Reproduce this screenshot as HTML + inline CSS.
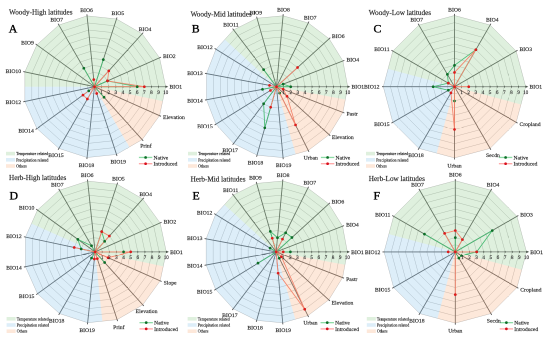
<!DOCTYPE html>
<html><head><meta charset="utf-8"><style>
html,body{margin:0;padding:0;background:#fff;}
svg{display:block;}
#wrap{width:550px;height:344px;overflow:hidden;position:relative;}
#sc{position:absolute;left:0;top:0;transform-origin:0 0;transform:scale(0.5);will-change:transform;}

text{font-family:"Liberation Serif",serif;stroke:#262626;stroke-width:0.15px;}
</style></head><body>
<div id="wrap"><div id="sc">
<svg width="1100" height="688" viewBox="0 0 550 344">
<rect width="550" height="344" fill="#fff"/>
<polygon points="101.62,86.70 101.00,83.80 99.26,81.41 96.70,79.93 93.76,79.62 90.94,80.53 88.74,82.51 87.54,85.22 87.54,88.18 88.74,90.89 90.94,92.87 93.76,93.78 96.70,93.47 99.26,91.99 101.00,89.60" fill="none" stroke="#bdbdbd" stroke-width="0.5"/>
<polygon points="108.74,86.70 107.51,80.91 104.03,76.12 98.90,73.16 93.01,72.54 87.38,74.37 82.98,78.33 80.57,83.74 80.57,89.66 82.98,95.07 87.38,99.03 93.01,100.86 98.90,100.24 104.03,97.28 107.51,92.49" fill="none" stroke="#bdbdbd" stroke-width="0.5"/>
<polygon points="115.86,86.70 114.01,78.01 108.79,70.83 101.10,66.39 92.27,65.46 83.82,68.20 77.22,74.14 73.61,82.26 73.61,91.14 77.22,99.26 83.82,105.20 92.27,107.94 101.10,107.01 108.79,102.57 114.01,95.39" fill="none" stroke="#bdbdbd" stroke-width="0.5"/>
<polygon points="122.98,86.70 120.52,75.12 113.56,65.54 103.30,59.61 91.52,58.38 80.26,62.04 71.46,69.96 66.64,80.78 66.64,92.62 71.46,103.44 80.26,111.36 91.52,115.02 103.30,113.79 113.56,107.86 120.52,98.28" fill="none" stroke="#bdbdbd" stroke-width="0.5"/>
<polygon points="130.10,86.70 127.02,72.22 118.32,60.24 105.50,52.84 90.78,51.30 76.70,55.87 65.70,65.77 59.68,79.30 59.68,94.10 65.70,107.63 76.70,117.53 90.78,122.10 105.50,120.56 118.32,113.16 127.02,101.18" fill="none" stroke="#bdbdbd" stroke-width="0.5"/>
<polygon points="137.22,86.70 133.53,69.32 123.09,54.95 107.70,46.07 90.03,44.21 73.14,49.70 59.94,61.59 52.71,77.82 52.71,95.58 59.94,111.81 73.14,123.70 90.03,129.19 107.70,127.33 123.09,118.45 133.53,104.08" fill="none" stroke="#bdbdbd" stroke-width="0.5"/>
<polygon points="144.34,86.70 140.03,66.43 127.85,49.66 109.90,39.30 89.29,37.13 69.58,43.54 54.18,57.40 45.75,76.34 45.75,97.06 54.18,116.00 69.58,129.86 89.29,136.27 109.90,134.10 127.85,123.74 140.03,106.97" fill="none" stroke="#bdbdbd" stroke-width="0.5"/>
<polygon points="151.46,86.70 146.54,63.53 132.61,44.37 112.10,32.53 88.55,30.05 66.02,37.37 48.42,53.22 38.78,74.86 38.78,98.54 48.42,120.18 66.02,136.03 88.55,143.35 112.10,140.87 132.61,129.03 146.54,109.87" fill="none" stroke="#bdbdbd" stroke-width="0.5"/>
<polygon points="158.58,86.70 153.04,60.64 137.38,39.08 114.30,25.76 87.80,22.97 62.46,31.21 42.66,49.03 31.82,73.38 31.82,100.02 42.66,124.37 62.46,142.19 87.80,150.43 114.30,147.64 137.38,134.32 153.04,112.76" fill="none" stroke="#bdbdbd" stroke-width="0.5"/>
<polygon points="165.70,86.70 159.54,57.74 142.14,33.79 116.50,18.98 87.06,15.89 58.90,25.04 36.90,44.85 24.86,71.90 24.86,101.50 36.90,128.55 58.90,148.36 87.06,157.51 116.50,154.42 142.14,139.61 159.54,115.66" fill="none" stroke="#bdbdbd" stroke-width="0.5"/>
<line x1="94.50" y1="86.70" x2="161.01" y2="57.09" stroke="#505050" stroke-width="0.85"/>
<line x1="94.50" y1="86.70" x2="143.21" y2="32.60" stroke="#505050" stroke-width="0.85"/>
<line x1="94.50" y1="86.70" x2="117.00" y2="17.46" stroke="#505050" stroke-width="0.85"/>
<line x1="94.50" y1="86.70" x2="86.89" y2="14.30" stroke="#505050" stroke-width="0.85"/>
<line x1="94.50" y1="86.70" x2="58.10" y2="23.65" stroke="#505050" stroke-width="0.85"/>
<line x1="94.50" y1="86.70" x2="35.60" y2="43.91" stroke="#505050" stroke-width="0.85"/>
<line x1="94.50" y1="86.70" x2="23.29" y2="71.56" stroke="#505050" stroke-width="0.85"/>
<line x1="94.50" y1="86.70" x2="23.29" y2="101.84" stroke="#505050" stroke-width="0.85"/>
<line x1="94.50" y1="86.70" x2="35.60" y2="129.49" stroke="#505050" stroke-width="0.85"/>
<line x1="94.50" y1="86.70" x2="58.10" y2="149.75" stroke="#505050" stroke-width="0.85"/>
<line x1="94.50" y1="86.70" x2="86.89" y2="159.10" stroke="#505050" stroke-width="0.85"/>
<line x1="94.50" y1="86.70" x2="117.00" y2="155.94" stroke="#505050" stroke-width="0.85"/>
<line x1="94.50" y1="86.70" x2="143.21" y2="140.80" stroke="#505050" stroke-width="0.85"/>
<line x1="94.50" y1="86.70" x2="161.01" y2="116.31" stroke="#505050" stroke-width="0.85"/>
<polygon points="94.50,86.70 162.62,101.18 165.70,86.70 159.54,57.74 142.14,33.79 116.50,18.98 87.06,15.89 58.90,25.04 36.90,44.85 24.86,71.90 24.86,86.70" fill="#94cd91" fill-opacity="0.3" stroke="none"/>
<polygon points="94.50,86.70 24.86,86.70 24.86,101.50 36.90,128.55 58.90,148.36 87.06,157.51 116.50,154.42 129.32,147.01" fill="#8ec6eb" fill-opacity="0.3" stroke="none"/>
<polygon points="94.50,86.70 129.32,147.01 142.14,139.61 159.54,115.66 162.62,101.18" fill="#f8b284" fill-opacity="0.3" stroke="none"/>
<line x1="94.50" y1="86.70" x2="166.30" y2="86.70" stroke="#707a70" stroke-width="0.75"/>
<path d="M168.30,86.70 L165.90,85.60 L165.90,87.80 Z" fill="#4a554a"/>
<line x1="101.62" y1="85.70" x2="101.62" y2="87.70" stroke="#4a554a" stroke-width="0.7"/>
<line x1="108.74" y1="85.70" x2="108.74" y2="87.70" stroke="#4a554a" stroke-width="0.7"/>
<line x1="115.86" y1="85.70" x2="115.86" y2="87.70" stroke="#4a554a" stroke-width="0.7"/>
<line x1="122.98" y1="85.70" x2="122.98" y2="87.70" stroke="#4a554a" stroke-width="0.7"/>
<line x1="130.10" y1="85.70" x2="130.10" y2="87.70" stroke="#4a554a" stroke-width="0.7"/>
<line x1="137.22" y1="85.70" x2="137.22" y2="87.70" stroke="#4a554a" stroke-width="0.7"/>
<line x1="144.34" y1="85.70" x2="144.34" y2="87.70" stroke="#4a554a" stroke-width="0.7"/>
<line x1="151.46" y1="85.70" x2="151.46" y2="87.70" stroke="#4a554a" stroke-width="0.7"/>
<line x1="158.58" y1="85.70" x2="158.58" y2="87.70" stroke="#4a554a" stroke-width="0.7"/>
<line x1="165.70" y1="85.70" x2="165.70" y2="87.70" stroke="#4a554a" stroke-width="0.7"/>
<polygon points="137.22,86.70 107.51,80.91 94.50,86.70 103.30,59.61 94.50,86.70 83.82,68.20 94.50,86.70 94.50,86.70 94.50,86.70 88.74,90.89 94.50,86.70 94.50,86.70 94.50,86.70 104.03,97.28 94.50,86.70" fill="none" stroke="#48bb74" stroke-width="0.85" stroke-linejoin="round"/>
<polygon points="144.34,86.70 107.51,80.91 108.79,70.83 94.50,86.70 93.76,79.62 94.50,86.70 94.50,86.70 94.50,86.70 94.50,86.70 82.98,95.07 87.38,99.03 94.50,86.70 96.70,93.47 94.50,86.70 94.50,86.70" fill="none" stroke="#f5846c" stroke-width="0.85" stroke-linejoin="round"/>
<circle cx="137.22" cy="86.70" r="1.35" fill="#0d6e28"/>
<circle cx="107.51" cy="80.91" r="1.35" fill="#0d6e28"/>
<circle cx="103.30" cy="59.61" r="1.35" fill="#0d6e28"/>
<circle cx="83.82" cy="68.20" r="1.35" fill="#0d6e28"/>
<circle cx="88.74" cy="90.89" r="1.35" fill="#0d6e28"/>
<circle cx="104.03" cy="97.28" r="1.35" fill="#0d6e28"/>
<circle cx="144.34" cy="86.70" r="1.35" fill="#dc1c1c"/>
<circle cx="107.51" cy="80.91" r="1.35" fill="#dc1c1c"/>
<circle cx="108.79" cy="70.83" r="1.35" fill="#dc1c1c"/>
<circle cx="93.76" cy="79.62" r="1.35" fill="#dc1c1c"/>
<circle cx="82.98" cy="95.07" r="1.35" fill="#dc1c1c"/>
<circle cx="87.38" cy="99.03" r="1.35" fill="#dc1c1c"/>
<circle cx="96.70" cy="93.47" r="1.35" fill="#dc1c1c"/>
<circle cx="94.50" cy="86.70" r="1.35" fill="#dc1c1c"/>
<rect x="6.00" y="151.80" width="9" height="3.6" fill="#94cd91" fill-opacity="0.3"/>
<rect x="6.00" y="158.00" width="9" height="3.6" fill="#8ec6eb" fill-opacity="0.3"/>
<rect x="6.00" y="164.20" width="9" height="3.6" fill="#f8b284" fill-opacity="0.3"/>
<line x1="138.90" y1="157.45" x2="152.30" y2="157.45" stroke="#8edca6" stroke-width="1.3"/>
<circle cx="145.60" cy="157.45" r="1.35" fill="#0d6e28"/>
<line x1="138.90" y1="163.70" x2="152.30" y2="163.70" stroke="#ffa6a6" stroke-width="1.3"/>
<circle cx="145.60" cy="163.70" r="1.35" fill="#d80f1c"/>
<polygon points="283.62,86.70 283.14,84.13 281.76,81.90 279.67,80.33 277.16,79.61 274.55,79.85 272.21,81.02 270.45,82.95 269.50,85.39 269.50,88.01 270.45,90.45 272.21,92.38 274.55,93.55 277.16,93.79 279.67,93.07 281.76,91.50 283.14,89.27" fill="none" stroke="#bdbdbd" stroke-width="0.5"/>
<polygon points="290.74,86.70 289.78,81.56 287.02,77.11 282.85,73.95 277.81,72.52 272.60,73.00 267.92,75.34 264.39,79.20 262.50,84.08 262.50,89.32 264.39,94.20 267.92,98.06 272.60,100.40 277.81,100.88 282.85,99.45 287.02,96.29 289.78,91.84" fill="none" stroke="#bdbdbd" stroke-width="0.5"/>
<polygon points="297.86,86.70 296.42,78.98 292.29,72.31 286.02,67.58 278.47,65.43 270.65,66.16 263.63,69.65 258.34,75.46 255.50,82.78 255.50,90.62 258.34,97.94 263.63,103.75 270.65,107.24 278.47,107.97 286.02,105.82 292.29,101.09 296.42,94.42" fill="none" stroke="#bdbdbd" stroke-width="0.5"/>
<polygon points="304.98,86.70 303.06,76.41 297.55,67.51 289.19,61.21 279.13,58.34 268.71,59.31 259.34,63.97 252.29,71.71 248.50,81.47 248.50,91.93 252.29,101.69 259.34,109.43 268.71,114.09 279.13,115.06 289.19,112.19 297.55,105.89 303.06,96.99" fill="none" stroke="#bdbdbd" stroke-width="0.5"/>
<polygon points="312.10,86.70 309.70,73.84 302.81,62.72 292.37,54.83 279.78,51.25 266.76,52.46 255.05,58.29 246.23,67.96 241.51,80.16 241.51,93.24 246.23,105.44 255.05,115.11 266.76,120.94 279.78,122.15 292.37,118.57 302.81,110.68 309.70,99.56" fill="none" stroke="#bdbdbd" stroke-width="0.5"/>
<polygon points="319.22,86.70 316.34,71.27 308.07,57.92 295.54,48.46 280.44,44.16 264.81,45.61 250.76,52.61 240.18,64.21 234.51,78.85 234.51,94.55 240.18,109.19 250.76,120.79 264.81,127.79 280.44,129.24 295.54,124.94 308.07,115.48 316.34,102.13" fill="none" stroke="#bdbdbd" stroke-width="0.5"/>
<polygon points="326.34,86.70 322.97,68.70 313.33,53.12 298.72,42.09 281.10,37.07 262.86,38.76 246.46,46.93 234.13,60.46 227.51,77.54 227.51,95.86 234.13,112.94 246.46,126.47 262.86,134.64 281.10,136.33 298.72,131.31 313.33,120.28 322.97,104.70" fill="none" stroke="#bdbdbd" stroke-width="0.5"/>
<polygon points="333.46,86.70 329.61,66.12 318.59,48.33 301.89,35.71 281.76,29.98 260.91,31.91 242.17,41.24 228.07,56.71 220.51,76.23 220.51,97.17 228.07,116.69 242.17,132.16 260.91,141.49 281.76,143.42 301.89,137.69 318.59,125.07 329.61,107.28" fill="none" stroke="#bdbdbd" stroke-width="0.5"/>
<polygon points="340.58,86.70 336.25,63.55 323.86,43.53 305.06,29.34 282.41,22.89 258.96,25.07 237.88,35.56 222.02,52.97 213.51,74.93 213.51,98.47 222.02,120.43 237.88,137.84 258.96,148.33 282.41,150.51 305.06,144.06 323.86,129.87 336.25,109.85" fill="none" stroke="#bdbdbd" stroke-width="0.5"/>
<polygon points="347.70,86.70 342.89,60.98 329.12,38.73 308.24,22.96 283.07,15.80 257.02,18.22 233.59,29.88 215.96,49.22 206.51,73.62 206.51,99.78 215.96,124.18 233.59,143.52 257.02,155.18 283.07,157.60 308.24,150.44 329.12,134.67 342.89,112.42" fill="none" stroke="#bdbdbd" stroke-width="0.5"/>
<line x1="276.50" y1="86.70" x2="344.38" y2="60.40" stroke="#505050" stroke-width="0.85"/>
<line x1="276.50" y1="86.70" x2="330.30" y2="37.65" stroke="#505050" stroke-width="0.85"/>
<line x1="276.50" y1="86.70" x2="308.95" y2="21.53" stroke="#505050" stroke-width="0.85"/>
<line x1="276.50" y1="86.70" x2="283.22" y2="14.21" stroke="#505050" stroke-width="0.85"/>
<line x1="276.50" y1="86.70" x2="256.58" y2="16.68" stroke="#505050" stroke-width="0.85"/>
<line x1="276.50" y1="86.70" x2="232.63" y2="28.60" stroke="#505050" stroke-width="0.85"/>
<line x1="276.50" y1="86.70" x2="214.60" y2="48.38" stroke="#505050" stroke-width="0.85"/>
<line x1="276.50" y1="86.70" x2="204.94" y2="73.32" stroke="#505050" stroke-width="0.85"/>
<line x1="276.50" y1="86.70" x2="204.94" y2="100.08" stroke="#505050" stroke-width="0.85"/>
<line x1="276.50" y1="86.70" x2="214.60" y2="125.02" stroke="#505050" stroke-width="0.85"/>
<line x1="276.50" y1="86.70" x2="232.63" y2="144.80" stroke="#505050" stroke-width="0.85"/>
<line x1="276.50" y1="86.70" x2="256.58" y2="156.72" stroke="#505050" stroke-width="0.85"/>
<line x1="276.50" y1="86.70" x2="283.22" y2="159.19" stroke="#505050" stroke-width="0.85"/>
<line x1="276.50" y1="86.70" x2="308.95" y2="151.87" stroke="#505050" stroke-width="0.85"/>
<line x1="276.50" y1="86.70" x2="330.30" y2="135.75" stroke="#505050" stroke-width="0.85"/>
<line x1="276.50" y1="86.70" x2="344.38" y2="113.00" stroke="#505050" stroke-width="0.85"/>
<polygon points="276.50,86.70 345.30,99.56 347.70,86.70 342.89,60.98 329.12,38.73 308.24,22.96 283.07,15.80 257.02,18.22 233.59,29.88 224.78,39.55" fill="#94cd91" fill-opacity="0.3" stroke="none"/>
<polygon points="276.50,86.70 224.78,39.55 215.96,49.22 206.51,73.62 206.51,99.78 215.96,124.18 233.59,143.52 257.02,155.18 283.07,157.60 295.65,154.02" fill="#8ec6eb" fill-opacity="0.3" stroke="none"/>
<polygon points="276.50,86.70 295.65,154.02 308.24,150.44 329.12,134.67 342.89,112.42 345.30,99.56" fill="#f8b284" fill-opacity="0.3" stroke="none"/>
<line x1="276.50" y1="86.70" x2="348.30" y2="86.70" stroke="#707a70" stroke-width="0.75"/>
<path d="M350.30,86.70 L347.90,85.60 L347.90,87.80 Z" fill="#4a554a"/>
<line x1="283.62" y1="85.70" x2="283.62" y2="87.70" stroke="#4a554a" stroke-width="0.7"/>
<line x1="290.74" y1="85.70" x2="290.74" y2="87.70" stroke="#4a554a" stroke-width="0.7"/>
<line x1="297.86" y1="85.70" x2="297.86" y2="87.70" stroke="#4a554a" stroke-width="0.7"/>
<line x1="304.98" y1="85.70" x2="304.98" y2="87.70" stroke="#4a554a" stroke-width="0.7"/>
<line x1="312.10" y1="85.70" x2="312.10" y2="87.70" stroke="#4a554a" stroke-width="0.7"/>
<line x1="319.22" y1="85.70" x2="319.22" y2="87.70" stroke="#4a554a" stroke-width="0.7"/>
<line x1="326.34" y1="85.70" x2="326.34" y2="87.70" stroke="#4a554a" stroke-width="0.7"/>
<line x1="333.46" y1="85.70" x2="333.46" y2="87.70" stroke="#4a554a" stroke-width="0.7"/>
<line x1="340.58" y1="85.70" x2="340.58" y2="87.70" stroke="#4a554a" stroke-width="0.7"/>
<line x1="347.70" y1="85.70" x2="347.70" y2="87.70" stroke="#4a554a" stroke-width="0.7"/>
<polygon points="290.74,86.70 283.14,84.13 276.50,86.70 276.50,86.70 276.50,86.70 276.50,86.70 263.63,69.65 276.50,86.70 276.50,86.70 262.50,89.32 276.50,86.70 263.63,103.75 264.81,127.79 276.50,86.70 279.67,93.07 276.50,86.70 276.50,86.70" fill="none" stroke="#48bb74" stroke-width="0.85" stroke-linejoin="round"/>
<polygon points="276.50,86.70 276.50,86.70 297.55,67.51 276.50,86.70 276.50,86.70 276.50,86.70 276.50,86.70 276.50,86.70 269.50,85.39 276.50,86.70 270.45,90.45 276.50,86.70 270.65,107.24 276.50,86.70 295.54,124.94 287.02,96.29 283.14,89.27" fill="none" stroke="#f5846c" stroke-width="0.85" stroke-linejoin="round"/>
<circle cx="290.74" cy="86.70" r="1.35" fill="#0d6e28"/>
<circle cx="283.14" cy="84.13" r="1.35" fill="#0d6e28"/>
<circle cx="263.63" cy="69.65" r="1.35" fill="#0d6e28"/>
<circle cx="262.50" cy="89.32" r="1.35" fill="#0d6e28"/>
<circle cx="263.63" cy="103.75" r="1.35" fill="#0d6e28"/>
<circle cx="264.81" cy="127.79" r="1.35" fill="#0d6e28"/>
<circle cx="279.67" cy="93.07" r="1.35" fill="#0d6e28"/>
<circle cx="297.55" cy="67.51" r="1.35" fill="#dc1c1c"/>
<circle cx="269.50" cy="85.39" r="1.35" fill="#dc1c1c"/>
<circle cx="270.45" cy="90.45" r="1.35" fill="#dc1c1c"/>
<circle cx="270.65" cy="107.24" r="1.35" fill="#dc1c1c"/>
<circle cx="295.54" cy="124.94" r="1.35" fill="#dc1c1c"/>
<circle cx="287.02" cy="96.29" r="1.35" fill="#dc1c1c"/>
<circle cx="283.14" cy="89.27" r="1.35" fill="#dc1c1c"/>
<line x1="278.40" y1="90.52" x2="280.94" y2="95.62" stroke="#f5846c" stroke-width="0.7" stroke-opacity="0.8"/>
<circle cx="276.50" cy="86.70" r="1.35" fill="#dc1c1c"/>
<rect x="188.00" y="151.80" width="9" height="3.6" fill="#94cd91" fill-opacity="0.3"/>
<rect x="188.00" y="158.00" width="9" height="3.6" fill="#8ec6eb" fill-opacity="0.3"/>
<rect x="188.00" y="164.20" width="9" height="3.6" fill="#f8b284" fill-opacity="0.3"/>
<line x1="320.90" y1="157.45" x2="334.30" y2="157.45" stroke="#8edca6" stroke-width="1.3"/>
<circle cx="327.60" cy="157.45" r="1.35" fill="#0d6e28"/>
<line x1="320.90" y1="163.70" x2="334.30" y2="163.70" stroke="#ffa6a6" stroke-width="1.3"/>
<circle cx="327.60" cy="163.70" r="1.35" fill="#d80f1c"/>
<polygon points="461.62,86.70 460.67,83.14 458.06,80.53 454.50,79.58 450.94,80.53 448.33,83.14 447.38,86.70 448.33,90.26 450.94,92.87 454.50,93.82 458.06,92.87 460.67,90.26" fill="none" stroke="#bdbdbd" stroke-width="0.5"/>
<polygon points="468.74,86.70 466.83,79.58 461.62,74.37 454.50,72.46 447.38,74.37 442.17,79.58 440.26,86.70 442.17,93.82 447.38,99.03 454.50,100.94 461.62,99.03 466.83,93.82" fill="none" stroke="#bdbdbd" stroke-width="0.5"/>
<polygon points="475.86,86.70 473.00,76.02 465.18,68.20 454.50,65.34 443.82,68.20 436.00,76.02 433.14,86.70 436.00,97.38 443.82,105.20 454.50,108.06 465.18,105.20 473.00,97.38" fill="none" stroke="#bdbdbd" stroke-width="0.5"/>
<polygon points="482.98,86.70 479.16,72.46 468.74,62.04 454.50,58.22 440.26,62.04 429.84,72.46 426.02,86.70 429.84,100.94 440.26,111.36 454.50,115.18 468.74,111.36 479.16,100.94" fill="none" stroke="#bdbdbd" stroke-width="0.5"/>
<polygon points="490.10,86.70 485.33,68.90 472.30,55.87 454.50,51.10 436.70,55.87 423.67,68.90 418.90,86.70 423.67,104.50 436.70,117.53 454.50,122.30 472.30,117.53 485.33,104.50" fill="none" stroke="#bdbdbd" stroke-width="0.5"/>
<polygon points="497.22,86.70 491.50,65.34 475.86,49.70 454.50,43.98 433.14,49.70 417.50,65.34 411.78,86.70 417.50,108.06 433.14,123.70 454.50,129.42 475.86,123.70 491.50,108.06" fill="none" stroke="#bdbdbd" stroke-width="0.5"/>
<polygon points="504.34,86.70 497.66,61.78 479.42,43.54 454.50,36.86 429.58,43.54 411.34,61.78 404.66,86.70 411.34,111.62 429.58,129.86 454.50,136.54 479.42,129.86 497.66,111.62" fill="none" stroke="#bdbdbd" stroke-width="0.5"/>
<polygon points="511.46,86.70 503.83,58.22 482.98,37.37 454.50,29.74 426.02,37.37 405.17,58.22 397.54,86.70 405.17,115.18 426.02,136.03 454.50,143.66 482.98,136.03 503.83,115.18" fill="none" stroke="#bdbdbd" stroke-width="0.5"/>
<polygon points="518.58,86.70 509.99,54.66 486.54,31.21 454.50,22.62 422.46,31.21 399.01,54.66 390.42,86.70 399.01,118.74 422.46,142.19 454.50,150.78 486.54,142.19 509.99,118.74" fill="none" stroke="#bdbdbd" stroke-width="0.5"/>
<polygon points="525.70,86.70 516.16,51.10 490.10,25.04 454.50,15.50 418.90,25.04 392.84,51.10 383.30,86.70 392.84,122.30 418.90,148.36 454.50,157.90 490.10,148.36 516.16,122.30" fill="none" stroke="#bdbdbd" stroke-width="0.5"/>
<line x1="454.50" y1="86.70" x2="517.55" y2="50.30" stroke="#505050" stroke-width="0.85"/>
<line x1="454.50" y1="86.70" x2="490.90" y2="23.65" stroke="#505050" stroke-width="0.85"/>
<line x1="454.50" y1="86.70" x2="454.50" y2="13.90" stroke="#505050" stroke-width="0.85"/>
<line x1="454.50" y1="86.70" x2="418.10" y2="23.65" stroke="#505050" stroke-width="0.85"/>
<line x1="454.50" y1="86.70" x2="391.45" y2="50.30" stroke="#505050" stroke-width="0.85"/>
<line x1="454.50" y1="86.70" x2="381.70" y2="86.70" stroke="#505050" stroke-width="0.85"/>
<line x1="454.50" y1="86.70" x2="391.45" y2="123.10" stroke="#505050" stroke-width="0.85"/>
<line x1="454.50" y1="86.70" x2="418.10" y2="149.75" stroke="#505050" stroke-width="0.85"/>
<line x1="454.50" y1="86.70" x2="454.50" y2="159.50" stroke="#505050" stroke-width="0.85"/>
<line x1="454.50" y1="86.70" x2="490.90" y2="149.75" stroke="#505050" stroke-width="0.85"/>
<line x1="454.50" y1="86.70" x2="517.55" y2="123.10" stroke="#505050" stroke-width="0.85"/>
<polygon points="454.50,86.70 520.93,104.50 525.70,86.70 516.16,51.10 490.10,25.04 454.50,15.50 418.90,25.04 392.84,51.10 388.07,68.90" fill="#94cd91" fill-opacity="0.3" stroke="none"/>
<polygon points="454.50,86.70 388.07,68.90 383.30,86.70 392.84,122.30 418.90,148.36 436.70,153.13" fill="#8ec6eb" fill-opacity="0.3" stroke="none"/>
<polygon points="454.50,86.70 436.70,153.13 454.50,157.90 490.10,148.36 516.16,122.30 520.93,104.50" fill="#f8b284" fill-opacity="0.3" stroke="none"/>
<line x1="454.50" y1="86.70" x2="526.30" y2="86.70" stroke="#707a70" stroke-width="0.75"/>
<path d="M528.30,86.70 L525.90,85.60 L525.90,87.80 Z" fill="#4a554a"/>
<line x1="461.62" y1="85.70" x2="461.62" y2="87.70" stroke="#4a554a" stroke-width="0.7"/>
<line x1="468.74" y1="85.70" x2="468.74" y2="87.70" stroke="#4a554a" stroke-width="0.7"/>
<line x1="475.86" y1="85.70" x2="475.86" y2="87.70" stroke="#4a554a" stroke-width="0.7"/>
<line x1="482.98" y1="85.70" x2="482.98" y2="87.70" stroke="#4a554a" stroke-width="0.7"/>
<line x1="490.10" y1="85.70" x2="490.10" y2="87.70" stroke="#4a554a" stroke-width="0.7"/>
<line x1="497.22" y1="85.70" x2="497.22" y2="87.70" stroke="#4a554a" stroke-width="0.7"/>
<line x1="504.34" y1="85.70" x2="504.34" y2="87.70" stroke="#4a554a" stroke-width="0.7"/>
<line x1="511.46" y1="85.70" x2="511.46" y2="87.70" stroke="#4a554a" stroke-width="0.7"/>
<line x1="518.58" y1="85.70" x2="518.58" y2="87.70" stroke="#4a554a" stroke-width="0.7"/>
<line x1="525.70" y1="85.70" x2="525.70" y2="87.70" stroke="#4a554a" stroke-width="0.7"/>
<polygon points="454.50,86.70 454.50,86.70 475.86,49.70 454.50,65.34 447.38,74.37 448.33,83.14 433.14,86.70 448.33,90.26 454.50,86.70 454.50,100.94 454.50,86.70 454.50,86.70" fill="none" stroke="#48bb74" stroke-width="0.85" stroke-linejoin="round"/>
<polygon points="468.74,86.70 454.50,86.70 475.86,49.70 454.50,72.46 454.50,86.70 448.33,83.14 454.50,86.70 454.50,86.70 450.94,92.87 454.50,129.42 454.50,86.70 454.50,86.70" fill="none" stroke="#f5846c" stroke-width="0.85" stroke-linejoin="round"/>
<circle cx="475.86" cy="49.70" r="1.35" fill="#0d6e28"/>
<circle cx="454.50" cy="65.34" r="1.35" fill="#0d6e28"/>
<circle cx="447.38" cy="74.37" r="1.35" fill="#0d6e28"/>
<circle cx="448.33" cy="83.14" r="1.35" fill="#0d6e28"/>
<circle cx="433.14" cy="86.70" r="1.35" fill="#0d6e28"/>
<circle cx="448.33" cy="90.26" r="1.35" fill="#0d6e28"/>
<circle cx="454.50" cy="100.94" r="1.35" fill="#0d6e28"/>
<circle cx="468.74" cy="86.70" r="1.35" fill="#dc1c1c"/>
<circle cx="475.86" cy="49.70" r="1.35" fill="#dc1c1c"/>
<circle cx="454.50" cy="72.46" r="1.35" fill="#dc1c1c"/>
<circle cx="448.33" cy="83.14" r="1.35" fill="#dc1c1c"/>
<circle cx="450.94" cy="92.87" r="1.35" fill="#dc1c1c"/>
<circle cx="454.50" cy="129.42" r="1.35" fill="#dc1c1c"/>
<line x1="454.50" y1="98.09" x2="454.50" y2="103.79" stroke="#f5846c" stroke-width="0.7" stroke-opacity="0.8"/>
<circle cx="454.50" cy="86.70" r="1.35" fill="#dc1c1c"/>
<rect x="366.00" y="151.80" width="9" height="3.6" fill="#94cd91" fill-opacity="0.3"/>
<rect x="366.00" y="158.00" width="9" height="3.6" fill="#8ec6eb" fill-opacity="0.3"/>
<rect x="366.00" y="164.20" width="9" height="3.6" fill="#f8b284" fill-opacity="0.3"/>
<line x1="498.90" y1="157.45" x2="512.30" y2="157.45" stroke="#8edca6" stroke-width="1.3"/>
<circle cx="505.60" cy="157.45" r="1.35" fill="#0d6e28"/>
<line x1="498.90" y1="163.70" x2="512.30" y2="163.70" stroke="#ffa6a6" stroke-width="1.3"/>
<circle cx="505.60" cy="163.70" r="1.35" fill="#d80f1c"/>
<polygon points="102.22,251.90 101.60,249.00 99.86,246.61 97.30,245.13 94.36,244.82 91.54,245.73 89.34,247.71 88.14,250.42 88.14,253.38 89.34,256.09 91.54,258.07 94.36,258.98 97.30,258.67 99.86,257.19 101.60,254.80" fill="none" stroke="#bdbdbd" stroke-width="0.5"/>
<polygon points="109.34,251.90 108.11,246.11 104.63,241.32 99.50,238.36 93.61,237.74 87.98,239.57 83.58,243.53 81.17,248.94 81.17,254.86 83.58,260.27 87.98,264.23 93.61,266.06 99.50,265.44 104.63,262.48 108.11,257.69" fill="none" stroke="#bdbdbd" stroke-width="0.5"/>
<polygon points="116.46,251.90 114.61,243.21 109.39,236.03 101.70,231.59 92.87,230.66 84.42,233.40 77.82,239.34 74.21,247.46 74.21,256.34 77.82,264.46 84.42,270.40 92.87,273.14 101.70,272.21 109.39,267.77 114.61,260.59" fill="none" stroke="#bdbdbd" stroke-width="0.5"/>
<polygon points="123.58,251.90 121.12,240.32 114.16,230.74 103.90,224.81 92.12,223.58 80.86,227.24 72.06,235.16 67.24,245.98 67.24,257.82 72.06,268.64 80.86,276.56 92.12,280.22 103.90,278.99 114.16,273.06 121.12,263.48" fill="none" stroke="#bdbdbd" stroke-width="0.5"/>
<polygon points="130.70,251.90 127.62,237.42 118.92,225.44 106.10,218.04 91.38,216.50 77.30,221.07 66.30,230.97 60.28,244.50 60.28,259.30 66.30,272.83 77.30,282.73 91.38,287.30 106.10,285.76 118.92,278.36 127.62,266.38" fill="none" stroke="#bdbdbd" stroke-width="0.5"/>
<polygon points="137.82,251.90 134.13,234.52 123.69,220.15 108.30,211.27 90.63,209.41 73.74,214.90 60.54,226.79 53.31,243.02 53.31,260.78 60.54,277.01 73.74,288.90 90.63,294.39 108.30,292.53 123.69,283.65 134.13,269.28" fill="none" stroke="#bdbdbd" stroke-width="0.5"/>
<polygon points="144.94,251.90 140.63,231.63 128.45,214.86 110.50,204.50 89.89,202.33 70.18,208.74 54.78,222.60 46.35,241.54 46.35,262.26 54.78,281.20 70.18,295.06 89.89,301.47 110.50,299.30 128.45,288.94 140.63,272.17" fill="none" stroke="#bdbdbd" stroke-width="0.5"/>
<polygon points="152.06,251.90 147.14,228.73 133.21,209.57 112.70,197.73 89.15,195.25 66.62,202.57 49.02,218.42 39.38,240.06 39.38,263.74 49.02,285.38 66.62,301.23 89.15,308.55 112.70,306.07 133.21,294.23 147.14,275.07" fill="none" stroke="#bdbdbd" stroke-width="0.5"/>
<polygon points="159.18,251.90 153.64,225.84 137.98,204.28 114.90,190.96 88.40,188.17 63.06,196.41 43.26,214.23 32.42,238.58 32.42,265.22 43.26,289.57 63.06,307.39 88.40,315.63 114.90,312.84 137.98,299.52 153.64,277.96" fill="none" stroke="#bdbdbd" stroke-width="0.5"/>
<polygon points="166.30,251.90 160.14,222.94 142.74,198.99 117.10,184.18 87.66,181.09 59.50,190.24 37.50,210.05 25.46,237.10 25.46,266.70 37.50,293.75 59.50,313.56 87.66,322.71 117.10,319.62 142.74,304.81 160.14,280.86" fill="none" stroke="#bdbdbd" stroke-width="0.5"/>
<line x1="95.10" y1="251.90" x2="161.61" y2="222.29" stroke="#505050" stroke-width="0.85"/>
<line x1="95.10" y1="251.90" x2="143.81" y2="197.80" stroke="#505050" stroke-width="0.85"/>
<line x1="95.10" y1="251.90" x2="117.60" y2="182.66" stroke="#505050" stroke-width="0.85"/>
<line x1="95.10" y1="251.90" x2="87.49" y2="179.50" stroke="#505050" stroke-width="0.85"/>
<line x1="95.10" y1="251.90" x2="58.70" y2="188.85" stroke="#505050" stroke-width="0.85"/>
<line x1="95.10" y1="251.90" x2="36.20" y2="209.11" stroke="#505050" stroke-width="0.85"/>
<line x1="95.10" y1="251.90" x2="23.89" y2="236.76" stroke="#505050" stroke-width="0.85"/>
<line x1="95.10" y1="251.90" x2="23.89" y2="267.04" stroke="#505050" stroke-width="0.85"/>
<line x1="95.10" y1="251.90" x2="36.20" y2="294.69" stroke="#505050" stroke-width="0.85"/>
<line x1="95.10" y1="251.90" x2="58.70" y2="314.95" stroke="#505050" stroke-width="0.85"/>
<line x1="95.10" y1="251.90" x2="87.49" y2="324.30" stroke="#505050" stroke-width="0.85"/>
<line x1="95.10" y1="251.90" x2="117.60" y2="321.14" stroke="#505050" stroke-width="0.85"/>
<line x1="95.10" y1="251.90" x2="143.81" y2="306.00" stroke="#505050" stroke-width="0.85"/>
<line x1="95.10" y1="251.90" x2="161.61" y2="281.51" stroke="#505050" stroke-width="0.85"/>
<polygon points="95.10,251.90 163.22,266.38 166.30,251.90 160.14,222.94 142.74,198.99 117.10,184.18 87.66,181.09 59.50,190.24 37.50,210.05 31.48,223.57" fill="#94cd91" fill-opacity="0.3" stroke="none"/>
<polygon points="95.10,251.90 31.48,223.57 25.46,237.10 25.46,266.70 37.50,293.75 59.50,313.56 87.66,322.71 102.38,321.16" fill="#8ec6eb" fill-opacity="0.3" stroke="none"/>
<polygon points="95.10,251.90 102.38,321.16 117.10,319.62 142.74,304.81 160.14,280.86 163.22,266.38" fill="#f8b284" fill-opacity="0.3" stroke="none"/>
<line x1="95.10" y1="251.90" x2="166.90" y2="251.90" stroke="#707a70" stroke-width="0.75"/>
<path d="M168.90,251.90 L166.50,250.80 L166.50,253.00 Z" fill="#4a554a"/>
<line x1="102.22" y1="250.90" x2="102.22" y2="252.90" stroke="#4a554a" stroke-width="0.7"/>
<line x1="109.34" y1="250.90" x2="109.34" y2="252.90" stroke="#4a554a" stroke-width="0.7"/>
<line x1="116.46" y1="250.90" x2="116.46" y2="252.90" stroke="#4a554a" stroke-width="0.7"/>
<line x1="123.58" y1="250.90" x2="123.58" y2="252.90" stroke="#4a554a" stroke-width="0.7"/>
<line x1="130.70" y1="250.90" x2="130.70" y2="252.90" stroke="#4a554a" stroke-width="0.7"/>
<line x1="137.82" y1="250.90" x2="137.82" y2="252.90" stroke="#4a554a" stroke-width="0.7"/>
<line x1="144.94" y1="250.90" x2="144.94" y2="252.90" stroke="#4a554a" stroke-width="0.7"/>
<line x1="152.06" y1="250.90" x2="152.06" y2="252.90" stroke="#4a554a" stroke-width="0.7"/>
<line x1="159.18" y1="250.90" x2="159.18" y2="252.90" stroke="#4a554a" stroke-width="0.7"/>
<line x1="166.30" y1="250.90" x2="166.30" y2="252.90" stroke="#4a554a" stroke-width="0.7"/>
<polygon points="123.58,251.90 95.10,251.90 104.63,241.32 101.70,231.59 95.10,251.90 91.54,245.73 77.82,239.34 81.17,248.94 95.10,251.90 95.10,251.90 91.54,258.07 95.10,251.90 95.10,251.90 104.63,262.48 95.10,251.90" fill="none" stroke="#48bb74" stroke-width="0.85" stroke-linejoin="round"/>
<polygon points="130.70,251.90 95.10,251.90 109.39,236.03 101.70,231.59 95.10,251.90 95.10,251.90 95.10,251.90 74.21,247.46 95.10,251.90 95.10,251.90 95.10,251.90 94.36,258.98 97.30,258.67 95.10,251.90 108.11,257.69" fill="none" stroke="#f5846c" stroke-width="0.85" stroke-linejoin="round"/>
<circle cx="123.58" cy="251.90" r="1.35" fill="#0d6e28"/>
<circle cx="104.63" cy="241.32" r="1.35" fill="#0d6e28"/>
<circle cx="101.70" cy="231.59" r="1.35" fill="#0d6e28"/>
<circle cx="91.54" cy="245.73" r="1.35" fill="#0d6e28"/>
<circle cx="77.82" cy="239.34" r="1.35" fill="#0d6e28"/>
<circle cx="81.17" cy="248.94" r="1.35" fill="#0d6e28"/>
<circle cx="91.54" cy="258.07" r="1.35" fill="#0d6e28"/>
<circle cx="104.63" cy="262.48" r="1.35" fill="#0d6e28"/>
<circle cx="130.70" cy="251.90" r="1.35" fill="#dc1c1c"/>
<circle cx="109.39" cy="236.03" r="1.35" fill="#dc1c1c"/>
<circle cx="101.70" cy="231.59" r="1.35" fill="#dc1c1c"/>
<circle cx="74.21" cy="247.46" r="1.35" fill="#dc1c1c"/>
<circle cx="94.36" cy="258.98" r="1.35" fill="#dc1c1c"/>
<circle cx="97.30" cy="258.67" r="1.35" fill="#dc1c1c"/>
<circle cx="108.11" cy="257.69" r="1.35" fill="#dc1c1c"/>
<circle cx="95.10" cy="251.90" r="1.35" fill="#dc1c1c"/>
<rect x="6.60" y="317.00" width="9" height="3.6" fill="#94cd91" fill-opacity="0.3"/>
<rect x="6.60" y="323.20" width="9" height="3.6" fill="#8ec6eb" fill-opacity="0.3"/>
<rect x="6.60" y="329.40" width="9" height="3.6" fill="#f8b284" fill-opacity="0.3"/>
<line x1="139.50" y1="322.65" x2="152.90" y2="322.65" stroke="#8edca6" stroke-width="1.3"/>
<circle cx="146.20" cy="322.65" r="1.35" fill="#0d6e28"/>
<line x1="139.50" y1="328.90" x2="152.90" y2="328.90" stroke="#ffa6a6" stroke-width="1.3"/>
<circle cx="146.20" cy="328.90" r="1.35" fill="#d80f1c"/>
<polygon points="283.27,251.90 282.79,249.33 281.41,247.10 279.32,245.53 276.81,244.81 274.20,245.05 271.86,246.22 270.10,248.15 269.15,250.59 269.15,253.21 270.10,255.65 271.86,257.58 274.20,258.75 276.81,258.99 279.32,258.27 281.41,256.70 282.79,254.47" fill="none" stroke="#bdbdbd" stroke-width="0.5"/>
<polygon points="290.39,251.90 289.43,246.76 286.67,242.31 282.50,239.15 277.46,237.72 272.25,238.20 267.57,240.54 264.04,244.40 262.15,249.28 262.15,254.52 264.04,259.40 267.57,263.26 272.25,265.60 277.46,266.08 282.50,264.65 286.67,261.49 289.43,257.04" fill="none" stroke="#bdbdbd" stroke-width="0.5"/>
<polygon points="297.51,251.90 296.07,244.18 291.94,237.51 285.67,232.78 278.12,230.63 270.30,231.36 263.28,234.85 257.99,240.66 255.15,247.98 255.15,255.82 257.99,263.14 263.28,268.95 270.30,272.44 278.12,273.17 285.67,271.02 291.94,266.29 296.07,259.62" fill="none" stroke="#bdbdbd" stroke-width="0.5"/>
<polygon points="304.63,251.90 302.71,241.61 297.20,232.71 288.84,226.41 278.78,223.54 268.36,224.51 258.99,229.17 251.94,236.91 248.15,246.67 248.15,257.13 251.94,266.89 258.99,274.63 268.36,279.29 278.78,280.26 288.84,277.39 297.20,271.09 302.71,262.19" fill="none" stroke="#bdbdbd" stroke-width="0.5"/>
<polygon points="311.75,251.90 309.35,239.04 302.46,227.92 292.02,220.03 279.43,216.45 266.41,217.66 254.70,223.49 245.88,233.16 241.16,245.36 241.16,258.44 245.88,270.64 254.70,280.31 266.41,286.14 279.43,287.35 292.02,283.77 302.46,275.88 309.35,264.76" fill="none" stroke="#bdbdbd" stroke-width="0.5"/>
<polygon points="318.87,251.90 315.99,236.47 307.72,223.12 295.19,213.66 280.09,209.36 264.46,210.81 250.41,217.81 239.83,229.41 234.16,244.05 234.16,259.75 239.83,274.39 250.41,285.99 264.46,292.99 280.09,294.44 295.19,290.14 307.72,280.68 315.99,267.33" fill="none" stroke="#bdbdbd" stroke-width="0.5"/>
<polygon points="325.99,251.90 322.62,233.90 312.98,218.32 298.37,207.29 280.75,202.27 262.51,203.96 246.11,212.13 233.78,225.66 227.16,242.74 227.16,261.06 233.78,278.14 246.11,291.67 262.51,299.84 280.75,301.53 298.37,296.51 312.98,285.48 322.62,269.90" fill="none" stroke="#bdbdbd" stroke-width="0.5"/>
<polygon points="333.11,251.90 329.26,231.32 318.24,213.53 301.54,200.91 281.41,195.18 260.56,197.11 241.82,206.44 227.72,221.91 220.16,241.43 220.16,262.37 227.72,281.89 241.82,297.36 260.56,306.69 281.41,308.62 301.54,302.89 318.24,290.27 329.26,272.48" fill="none" stroke="#bdbdbd" stroke-width="0.5"/>
<polygon points="340.23,251.90 335.90,228.75 323.51,208.73 304.71,194.54 282.06,188.09 258.61,190.27 237.53,200.76 221.67,218.17 213.16,240.13 213.16,263.67 221.67,285.63 237.53,303.04 258.61,313.53 282.06,315.71 304.71,309.26 323.51,295.07 335.90,275.05" fill="none" stroke="#bdbdbd" stroke-width="0.5"/>
<polygon points="347.35,251.90 342.54,226.18 328.77,203.93 307.89,188.16 282.72,181.00 256.67,183.42 233.24,195.08 215.61,214.42 206.16,238.82 206.16,264.98 215.61,289.38 233.24,308.72 256.67,320.38 282.72,322.80 307.89,315.64 328.77,299.87 342.54,277.62" fill="none" stroke="#bdbdbd" stroke-width="0.5"/>
<line x1="276.15" y1="251.90" x2="344.03" y2="225.60" stroke="#505050" stroke-width="0.85"/>
<line x1="276.15" y1="251.90" x2="329.95" y2="202.85" stroke="#505050" stroke-width="0.85"/>
<line x1="276.15" y1="251.90" x2="308.60" y2="186.73" stroke="#505050" stroke-width="0.85"/>
<line x1="276.15" y1="251.90" x2="282.87" y2="179.41" stroke="#505050" stroke-width="0.85"/>
<line x1="276.15" y1="251.90" x2="256.23" y2="181.88" stroke="#505050" stroke-width="0.85"/>
<line x1="276.15" y1="251.90" x2="232.28" y2="193.80" stroke="#505050" stroke-width="0.85"/>
<line x1="276.15" y1="251.90" x2="214.25" y2="213.58" stroke="#505050" stroke-width="0.85"/>
<line x1="276.15" y1="251.90" x2="204.59" y2="238.52" stroke="#505050" stroke-width="0.85"/>
<line x1="276.15" y1="251.90" x2="204.59" y2="265.28" stroke="#505050" stroke-width="0.85"/>
<line x1="276.15" y1="251.90" x2="214.25" y2="290.22" stroke="#505050" stroke-width="0.85"/>
<line x1="276.15" y1="251.90" x2="232.28" y2="310.00" stroke="#505050" stroke-width="0.85"/>
<line x1="276.15" y1="251.90" x2="256.23" y2="321.92" stroke="#505050" stroke-width="0.85"/>
<line x1="276.15" y1="251.90" x2="282.87" y2="324.39" stroke="#505050" stroke-width="0.85"/>
<line x1="276.15" y1="251.90" x2="308.60" y2="317.07" stroke="#505050" stroke-width="0.85"/>
<line x1="276.15" y1="251.90" x2="329.95" y2="300.95" stroke="#505050" stroke-width="0.85"/>
<line x1="276.15" y1="251.90" x2="344.03" y2="278.20" stroke="#505050" stroke-width="0.85"/>
<polygon points="276.15,251.90 344.95,264.76 347.35,251.90 342.54,226.18 328.77,203.93 307.89,188.16 282.72,181.00 256.67,183.42 233.24,195.08 224.43,204.75" fill="#94cd91" fill-opacity="0.3" stroke="none"/>
<polygon points="276.15,251.90 224.43,204.75 215.61,214.42 206.16,238.82 206.16,264.98 215.61,289.38 233.24,308.72 256.67,320.38 282.72,322.80 295.30,319.22" fill="#8ec6eb" fill-opacity="0.3" stroke="none"/>
<polygon points="276.15,251.90 295.30,319.22 307.89,315.64 328.77,299.87 342.54,277.62 344.95,264.76" fill="#f8b284" fill-opacity="0.3" stroke="none"/>
<line x1="276.15" y1="251.90" x2="347.95" y2="251.90" stroke="#707a70" stroke-width="0.75"/>
<path d="M349.95,251.90 L347.55,250.80 L347.55,253.00 Z" fill="#4a554a"/>
<line x1="283.27" y1="250.90" x2="283.27" y2="252.90" stroke="#4a554a" stroke-width="0.7"/>
<line x1="290.39" y1="250.90" x2="290.39" y2="252.90" stroke="#4a554a" stroke-width="0.7"/>
<line x1="297.51" y1="250.90" x2="297.51" y2="252.90" stroke="#4a554a" stroke-width="0.7"/>
<line x1="304.63" y1="250.90" x2="304.63" y2="252.90" stroke="#4a554a" stroke-width="0.7"/>
<line x1="311.75" y1="250.90" x2="311.75" y2="252.90" stroke="#4a554a" stroke-width="0.7"/>
<line x1="318.87" y1="250.90" x2="318.87" y2="252.90" stroke="#4a554a" stroke-width="0.7"/>
<line x1="325.99" y1="250.90" x2="325.99" y2="252.90" stroke="#4a554a" stroke-width="0.7"/>
<line x1="333.11" y1="250.90" x2="333.11" y2="252.90" stroke="#4a554a" stroke-width="0.7"/>
<line x1="340.23" y1="250.90" x2="340.23" y2="252.90" stroke="#4a554a" stroke-width="0.7"/>
<line x1="347.35" y1="250.90" x2="347.35" y2="252.90" stroke="#4a554a" stroke-width="0.7"/>
<polygon points="290.39,251.90 276.15,251.90 291.94,237.51 285.67,232.78 277.46,237.72 270.30,231.36 276.15,251.90 270.10,248.15 276.15,251.90 276.15,251.90 257.99,263.14 276.15,251.90 276.15,251.90 276.15,251.90 279.32,258.27 276.15,251.90 276.15,251.90" fill="none" stroke="#48bb74" stroke-width="0.85" stroke-linejoin="round"/>
<polygon points="283.27,251.90 276.15,251.90 276.15,251.90 282.50,239.15 276.15,251.90 272.25,238.20 276.15,251.90 276.15,251.90 276.15,251.90 276.15,251.90 276.15,251.90 276.15,251.90 276.15,251.90 278.12,273.17 304.71,309.26 281.41,256.70 276.15,251.90" fill="none" stroke="#f5846c" stroke-width="0.85" stroke-linejoin="round"/>
<circle cx="290.39" cy="251.90" r="1.35" fill="#0d6e28"/>
<circle cx="291.94" cy="237.51" r="1.35" fill="#0d6e28"/>
<circle cx="285.67" cy="232.78" r="1.35" fill="#0d6e28"/>
<circle cx="277.46" cy="237.72" r="1.35" fill="#0d6e28"/>
<circle cx="270.30" cy="231.36" r="1.35" fill="#0d6e28"/>
<circle cx="270.10" cy="248.15" r="1.35" fill="#0d6e28"/>
<circle cx="257.99" cy="263.14" r="1.35" fill="#0d6e28"/>
<circle cx="279.32" cy="258.27" r="1.35" fill="#0d6e28"/>
<circle cx="283.27" cy="251.90" r="1.35" fill="#dc1c1c"/>
<circle cx="282.50" cy="239.15" r="1.35" fill="#dc1c1c"/>
<circle cx="272.25" cy="238.20" r="1.35" fill="#dc1c1c"/>
<circle cx="278.12" cy="273.17" r="1.35" fill="#dc1c1c"/>
<circle cx="304.71" cy="309.26" r="1.35" fill="#dc1c1c"/>
<circle cx="281.41" cy="256.70" r="1.35" fill="#dc1c1c"/>
<circle cx="276.15" cy="251.90" r="1.35" fill="#dc1c1c"/>
<rect x="187.65" y="317.00" width="9" height="3.6" fill="#94cd91" fill-opacity="0.3"/>
<rect x="187.65" y="323.20" width="9" height="3.6" fill="#8ec6eb" fill-opacity="0.3"/>
<rect x="187.65" y="329.40" width="9" height="3.6" fill="#f8b284" fill-opacity="0.3"/>
<line x1="320.55" y1="322.65" x2="333.95" y2="322.65" stroke="#8edca6" stroke-width="1.3"/>
<circle cx="327.25" cy="322.65" r="1.35" fill="#0d6e28"/>
<line x1="320.55" y1="328.90" x2="333.95" y2="328.90" stroke="#ffa6a6" stroke-width="1.3"/>
<circle cx="327.25" cy="328.90" r="1.35" fill="#d80f1c"/>
<polygon points="462.42,251.90 461.47,248.34 458.86,245.73 455.30,244.78 451.74,245.73 449.13,248.34 448.18,251.90 449.13,255.46 451.74,258.07 455.30,259.02 458.86,258.07 461.47,255.46" fill="none" stroke="#bdbdbd" stroke-width="0.5"/>
<polygon points="469.54,251.90 467.63,244.78 462.42,239.57 455.30,237.66 448.18,239.57 442.97,244.78 441.06,251.90 442.97,259.02 448.18,264.23 455.30,266.14 462.42,264.23 467.63,259.02" fill="none" stroke="#bdbdbd" stroke-width="0.5"/>
<polygon points="476.66,251.90 473.80,241.22 465.98,233.40 455.30,230.54 444.62,233.40 436.80,241.22 433.94,251.90 436.80,262.58 444.62,270.40 455.30,273.26 465.98,270.40 473.80,262.58" fill="none" stroke="#bdbdbd" stroke-width="0.5"/>
<polygon points="483.78,251.90 479.96,237.66 469.54,227.24 455.30,223.42 441.06,227.24 430.64,237.66 426.82,251.90 430.64,266.14 441.06,276.56 455.30,280.38 469.54,276.56 479.96,266.14" fill="none" stroke="#bdbdbd" stroke-width="0.5"/>
<polygon points="490.90,251.90 486.13,234.10 473.10,221.07 455.30,216.30 437.50,221.07 424.47,234.10 419.70,251.90 424.47,269.70 437.50,282.73 455.30,287.50 473.10,282.73 486.13,269.70" fill="none" stroke="#bdbdbd" stroke-width="0.5"/>
<polygon points="498.02,251.90 492.30,230.54 476.66,214.90 455.30,209.18 433.94,214.90 418.30,230.54 412.58,251.90 418.30,273.26 433.94,288.90 455.30,294.62 476.66,288.90 492.30,273.26" fill="none" stroke="#bdbdbd" stroke-width="0.5"/>
<polygon points="505.14,251.90 498.46,226.98 480.22,208.74 455.30,202.06 430.38,208.74 412.14,226.98 405.46,251.90 412.14,276.82 430.38,295.06 455.30,301.74 480.22,295.06 498.46,276.82" fill="none" stroke="#bdbdbd" stroke-width="0.5"/>
<polygon points="512.26,251.90 504.63,223.42 483.78,202.57 455.30,194.94 426.82,202.57 405.97,223.42 398.34,251.90 405.97,280.38 426.82,301.23 455.30,308.86 483.78,301.23 504.63,280.38" fill="none" stroke="#bdbdbd" stroke-width="0.5"/>
<polygon points="519.38,251.90 510.79,219.86 487.34,196.41 455.30,187.82 423.26,196.41 399.81,219.86 391.22,251.90 399.81,283.94 423.26,307.39 455.30,315.98 487.34,307.39 510.79,283.94" fill="none" stroke="#bdbdbd" stroke-width="0.5"/>
<polygon points="526.50,251.90 516.96,216.30 490.90,190.24 455.30,180.70 419.70,190.24 393.64,216.30 384.10,251.90 393.64,287.50 419.70,313.56 455.30,323.10 490.90,313.56 516.96,287.50" fill="none" stroke="#bdbdbd" stroke-width="0.5"/>
<line x1="455.30" y1="251.90" x2="518.35" y2="215.50" stroke="#505050" stroke-width="0.85"/>
<line x1="455.30" y1="251.90" x2="491.70" y2="188.85" stroke="#505050" stroke-width="0.85"/>
<line x1="455.30" y1="251.90" x2="455.30" y2="179.10" stroke="#505050" stroke-width="0.85"/>
<line x1="455.30" y1="251.90" x2="418.90" y2="188.85" stroke="#505050" stroke-width="0.85"/>
<line x1="455.30" y1="251.90" x2="392.25" y2="215.50" stroke="#505050" stroke-width="0.85"/>
<line x1="455.30" y1="251.90" x2="382.50" y2="251.90" stroke="#505050" stroke-width="0.85"/>
<line x1="455.30" y1="251.90" x2="392.25" y2="288.30" stroke="#505050" stroke-width="0.85"/>
<line x1="455.30" y1="251.90" x2="418.90" y2="314.95" stroke="#505050" stroke-width="0.85"/>
<line x1="455.30" y1="251.90" x2="455.30" y2="324.70" stroke="#505050" stroke-width="0.85"/>
<line x1="455.30" y1="251.90" x2="491.70" y2="314.95" stroke="#505050" stroke-width="0.85"/>
<line x1="455.30" y1="251.90" x2="518.35" y2="288.30" stroke="#505050" stroke-width="0.85"/>
<polygon points="455.30,251.90 521.73,269.70 526.50,251.90 516.96,216.30 490.90,190.24 455.30,180.70 419.70,190.24 393.64,216.30 388.87,234.10" fill="#94cd91" fill-opacity="0.3" stroke="none"/>
<polygon points="455.30,251.90 388.87,234.10 384.10,251.90 393.64,287.50 419.70,313.56 437.50,318.33" fill="#8ec6eb" fill-opacity="0.3" stroke="none"/>
<polygon points="455.30,251.90 437.50,318.33 455.30,323.10 490.90,313.56 516.96,287.50 521.73,269.70" fill="#f8b284" fill-opacity="0.3" stroke="none"/>
<line x1="455.30" y1="251.90" x2="527.10" y2="251.90" stroke="#707a70" stroke-width="0.75"/>
<path d="M529.10,251.90 L526.70,250.80 L526.70,253.00 Z" fill="#4a554a"/>
<line x1="462.42" y1="250.90" x2="462.42" y2="252.90" stroke="#4a554a" stroke-width="0.7"/>
<line x1="469.54" y1="250.90" x2="469.54" y2="252.90" stroke="#4a554a" stroke-width="0.7"/>
<line x1="476.66" y1="250.90" x2="476.66" y2="252.90" stroke="#4a554a" stroke-width="0.7"/>
<line x1="483.78" y1="250.90" x2="483.78" y2="252.90" stroke="#4a554a" stroke-width="0.7"/>
<line x1="490.90" y1="250.90" x2="490.90" y2="252.90" stroke="#4a554a" stroke-width="0.7"/>
<line x1="498.02" y1="250.90" x2="498.02" y2="252.90" stroke="#4a554a" stroke-width="0.7"/>
<line x1="505.14" y1="250.90" x2="505.14" y2="252.90" stroke="#4a554a" stroke-width="0.7"/>
<line x1="512.26" y1="250.90" x2="512.26" y2="252.90" stroke="#4a554a" stroke-width="0.7"/>
<line x1="519.38" y1="250.90" x2="519.38" y2="252.90" stroke="#4a554a" stroke-width="0.7"/>
<line x1="526.50" y1="250.90" x2="526.50" y2="252.90" stroke="#4a554a" stroke-width="0.7"/>
<polygon points="476.66,251.90 492.30,230.54 455.30,251.90 455.30,237.66 455.30,251.90 424.47,234.10 455.30,251.90 455.30,251.90 455.30,251.90 455.30,251.90 458.86,258.07 461.47,255.46" fill="none" stroke="#48bb74" stroke-width="0.85" stroke-linejoin="round"/>
<polygon points="476.66,251.90 455.30,251.90 462.42,239.57 455.30,230.54 444.62,233.40 455.30,251.90 448.18,251.90 455.30,251.90 455.30,251.90 455.30,294.62 455.30,251.90 455.30,251.90" fill="none" stroke="#f5846c" stroke-width="0.85" stroke-linejoin="round"/>
<circle cx="476.66" cy="251.90" r="1.35" fill="#0d6e28"/>
<circle cx="492.30" cy="230.54" r="1.35" fill="#0d6e28"/>
<circle cx="455.30" cy="237.66" r="1.35" fill="#0d6e28"/>
<circle cx="424.47" cy="234.10" r="1.35" fill="#0d6e28"/>
<circle cx="458.86" cy="258.07" r="1.35" fill="#0d6e28"/>
<circle cx="461.47" cy="255.46" r="1.35" fill="#0d6e28"/>
<circle cx="476.66" cy="251.90" r="1.35" fill="#dc1c1c"/>
<circle cx="462.42" cy="239.57" r="1.35" fill="#dc1c1c"/>
<circle cx="455.30" cy="230.54" r="1.35" fill="#dc1c1c"/>
<circle cx="444.62" cy="233.40" r="1.35" fill="#dc1c1c"/>
<circle cx="448.18" cy="251.90" r="1.35" fill="#dc1c1c"/>
<circle cx="455.30" cy="294.62" r="1.35" fill="#dc1c1c"/>
<circle cx="455.30" cy="251.90" r="1.35" fill="#dc1c1c"/>
<rect x="366.80" y="317.00" width="9" height="3.6" fill="#94cd91" fill-opacity="0.3"/>
<rect x="366.80" y="323.20" width="9" height="3.6" fill="#8ec6eb" fill-opacity="0.3"/>
<rect x="366.80" y="329.40" width="9" height="3.6" fill="#f8b284" fill-opacity="0.3"/>
<line x1="499.70" y1="322.65" x2="513.10" y2="322.65" stroke="#8edca6" stroke-width="1.3"/>
<circle cx="506.40" cy="322.65" r="1.35" fill="#0d6e28"/>
<line x1="499.70" y1="328.90" x2="513.10" y2="328.90" stroke="#ffa6a6" stroke-width="1.3"/>
<circle cx="506.40" cy="328.90" r="1.35" fill="#d80f1c"/>
<g>
<text x="101.62" y="93.90" font-size="4.9" text-anchor="middle" fill="#3a3a3a">1</text>
<text x="108.74" y="93.90" font-size="4.9" text-anchor="middle" fill="#3a3a3a">2</text>
<text x="115.86" y="93.90" font-size="4.9" text-anchor="middle" fill="#3a3a3a">3</text>
<text x="122.98" y="93.90" font-size="4.9" text-anchor="middle" fill="#3a3a3a">4</text>
<text x="130.10" y="93.90" font-size="4.9" text-anchor="middle" fill="#3a3a3a">5</text>
<text x="137.22" y="93.90" font-size="4.9" text-anchor="middle" fill="#3a3a3a">6</text>
<text x="144.34" y="93.90" font-size="4.9" text-anchor="middle" fill="#3a3a3a">7</text>
<text x="151.46" y="93.90" font-size="4.9" text-anchor="middle" fill="#3a3a3a">8</text>
<text x="158.58" y="93.90" font-size="4.9" text-anchor="middle" fill="#3a3a3a">9</text>
<text x="165.70" y="93.90" font-size="4.9" text-anchor="middle" fill="#3a3a3a">10</text>
<text x="169.50" y="88.58" font-size="5.7" text-anchor="start" fill="#2a2a2a">BIO1</text>
<text x="163.02" y="58.08" font-size="5.7" text-anchor="start" fill="#2a2a2a">BIO2</text>
<text x="145.09" y="30.82" font-size="5.7" text-anchor="middle" fill="#2a2a2a">BIO4</text>
<text x="117.86" y="15.10" font-size="5.7" text-anchor="middle" fill="#2a2a2a">BIO5</text>
<text x="86.60" y="11.81" font-size="5.7" text-anchor="middle" fill="#2a2a2a">BIO6</text>
<text x="56.70" y="21.53" font-size="5.7" text-anchor="middle" fill="#2a2a2a">BIO7</text>
<text x="33.82" y="44.50" font-size="5.7" text-anchor="end" fill="#2a2a2a">BIO9</text>
<text x="21.14" y="72.99" font-size="5.7" text-anchor="end" fill="#2a2a2a">BIO10</text>
<text x="21.14" y="104.17" font-size="5.7" text-anchor="end" fill="#2a2a2a">BIO12</text>
<text x="33.82" y="132.66" font-size="5.7" text-anchor="end" fill="#2a2a2a">BIO14</text>
<text x="56.05" y="157.06" font-size="5.7" text-anchor="middle" fill="#2a2a2a">BIO15</text>
<text x="86.46" y="166.94" font-size="5.7" text-anchor="middle" fill="#2a2a2a">BIO18</text>
<text x="118.26" y="163.60" font-size="5.7" text-anchor="middle" fill="#2a2a2a">BIO19</text>
<text x="145.96" y="147.61" font-size="5.7" text-anchor="middle" fill="#2a2a2a">Prinf</text>
<text x="163.02" y="119.09" font-size="5.7" text-anchor="start" fill="#2a2a2a">Elevation</text>
<text x="9.00" y="14.50" font-size="7.2" fill="#2a2a2a">Woody-High latitudes</text>
<text x="8.70" y="32.70" font-size="11.8" fill="#000" style="stroke:#000;stroke-width:0.35px">A</text>
<text x="16.10" y="155.10" font-size="4.0" fill="#2a2a2a">Temperature related</text>
<text x="16.10" y="161.30" font-size="4.0" fill="#2a2a2a">Precipitation related</text>
<text x="16.10" y="167.50" font-size="4.0" fill="#2a2a2a">Others</text>
<text x="153.50" y="159.35" font-size="5.5" fill="#2a2a2a">Native</text>
<text x="153.50" y="165.60" font-size="5.5" fill="#2a2a2a">Introduced</text>
<text x="283.62" y="93.90" font-size="4.9" text-anchor="middle" fill="#3a3a3a">1</text>
<text x="290.74" y="93.90" font-size="4.9" text-anchor="middle" fill="#3a3a3a">2</text>
<text x="297.86" y="93.90" font-size="4.9" text-anchor="middle" fill="#3a3a3a">3</text>
<text x="304.98" y="93.90" font-size="4.9" text-anchor="middle" fill="#3a3a3a">4</text>
<text x="312.10" y="93.90" font-size="4.9" text-anchor="middle" fill="#3a3a3a">5</text>
<text x="319.22" y="93.90" font-size="4.9" text-anchor="middle" fill="#3a3a3a">6</text>
<text x="326.34" y="93.90" font-size="4.9" text-anchor="middle" fill="#3a3a3a">7</text>
<text x="333.46" y="93.90" font-size="4.9" text-anchor="middle" fill="#3a3a3a">8</text>
<text x="340.58" y="93.90" font-size="4.9" text-anchor="middle" fill="#3a3a3a">9</text>
<text x="347.70" y="93.90" font-size="4.9" text-anchor="middle" fill="#3a3a3a">10</text>
<text x="351.50" y="88.58" font-size="5.7" text-anchor="start" fill="#2a2a2a">BIO1</text>
<text x="346.44" y="61.49" font-size="5.7" text-anchor="start" fill="#2a2a2a">BIO4</text>
<text x="331.93" y="38.05" font-size="5.7" text-anchor="start" fill="#2a2a2a">BIO6</text>
<text x="310.20" y="19.33" font-size="5.7" text-anchor="middle" fill="#2a2a2a">BIO7</text>
<text x="283.48" y="11.72" font-size="5.7" text-anchor="middle" fill="#2a2a2a">BIO8</text>
<text x="255.81" y="14.29" font-size="5.7" text-anchor="middle" fill="#2a2a2a">BIO9</text>
<text x="230.94" y="26.67" font-size="5.7" text-anchor="middle" fill="#2a2a2a">BIO11</text>
<text x="212.73" y="49.10" font-size="5.7" text-anchor="end" fill="#2a2a2a">BIO12</text>
<text x="202.78" y="74.80" font-size="5.7" text-anchor="end" fill="#2a2a2a">BIO13</text>
<text x="202.78" y="102.36" font-size="5.7" text-anchor="end" fill="#2a2a2a">BIO14</text>
<text x="212.73" y="128.06" font-size="5.7" text-anchor="end" fill="#2a2a2a">BIO15</text>
<text x="230.16" y="151.83" font-size="5.7" text-anchor="middle" fill="#2a2a2a">BIO17</text>
<text x="255.46" y="164.43" font-size="5.7" text-anchor="middle" fill="#2a2a2a">BIO18</text>
<text x="283.60" y="167.03" font-size="5.7" text-anchor="middle" fill="#2a2a2a">BIO19</text>
<text x="310.78" y="159.30" font-size="5.7" text-anchor="middle" fill="#2a2a2a">Urban</text>
<text x="331.93" y="139.11" font-size="5.7" text-anchor="start" fill="#2a2a2a">Elevation</text>
<text x="346.44" y="115.67" font-size="5.7" text-anchor="start" fill="#2a2a2a">Pastr</text>
<text x="190.60" y="16.50" font-size="7.2" fill="#2a2a2a">Woody-Mid latitudes</text>
<text x="191.80" y="32.70" font-size="11.8" fill="#000" style="stroke:#000;stroke-width:0.35px">B</text>
<text x="198.10" y="155.10" font-size="4.0" fill="#2a2a2a">Temperature related</text>
<text x="198.10" y="161.30" font-size="4.0" fill="#2a2a2a">Precipitation related</text>
<text x="198.10" y="167.50" font-size="4.0" fill="#2a2a2a">Others</text>
<text x="335.50" y="159.35" font-size="5.5" fill="#2a2a2a">Native</text>
<text x="335.50" y="165.60" font-size="5.5" fill="#2a2a2a">Introduced</text>
<text x="461.62" y="93.90" font-size="4.9" text-anchor="middle" fill="#3a3a3a">1</text>
<text x="468.74" y="93.90" font-size="4.9" text-anchor="middle" fill="#3a3a3a">2</text>
<text x="475.86" y="93.90" font-size="4.9" text-anchor="middle" fill="#3a3a3a">3</text>
<text x="482.98" y="93.90" font-size="4.9" text-anchor="middle" fill="#3a3a3a">4</text>
<text x="490.10" y="93.90" font-size="4.9" text-anchor="middle" fill="#3a3a3a">5</text>
<text x="497.22" y="93.90" font-size="4.9" text-anchor="middle" fill="#3a3a3a">6</text>
<text x="504.34" y="93.90" font-size="4.9" text-anchor="middle" fill="#3a3a3a">7</text>
<text x="511.46" y="93.90" font-size="4.9" text-anchor="middle" fill="#3a3a3a">8</text>
<text x="518.58" y="93.90" font-size="4.9" text-anchor="middle" fill="#3a3a3a">9</text>
<text x="525.70" y="93.90" font-size="4.9" text-anchor="middle" fill="#3a3a3a">10</text>
<text x="529.50" y="88.58" font-size="5.7" text-anchor="start" fill="#2a2a2a">BIO1</text>
<text x="519.45" y="51.08" font-size="5.7" text-anchor="start" fill="#2a2a2a">BIO3</text>
<text x="492.30" y="21.53" font-size="5.7" text-anchor="middle" fill="#2a2a2a">BIO4</text>
<text x="454.50" y="11.40" font-size="5.7" text-anchor="middle" fill="#2a2a2a">BIO6</text>
<text x="416.70" y="21.53" font-size="5.7" text-anchor="middle" fill="#2a2a2a">BIO7</text>
<text x="389.55" y="51.08" font-size="5.7" text-anchor="end" fill="#2a2a2a">BIO11</text>
<text x="379.50" y="88.58" font-size="5.7" text-anchor="end" fill="#2a2a2a">BIO12</text>
<text x="389.55" y="126.08" font-size="5.7" text-anchor="end" fill="#2a2a2a">BIO15</text>
<text x="416.05" y="157.06" font-size="5.7" text-anchor="middle" fill="#2a2a2a">BIO18</text>
<text x="454.50" y="167.36" font-size="5.7" text-anchor="middle" fill="#2a2a2a">Urban</text>
<text x="492.95" y="157.06" font-size="5.7" text-anchor="middle" fill="#2a2a2a">Secdn</text>
<text x="519.45" y="126.08" font-size="5.7" text-anchor="start" fill="#2a2a2a">Cropland</text>
<text x="368.80" y="15.00" font-size="7.2" fill="#2a2a2a">Woody-Low latitudes</text>
<text x="373.50" y="32.70" font-size="11.8" fill="#000" style="stroke:#000;stroke-width:0.35px">C</text>
<text x="376.10" y="155.10" font-size="4.0" fill="#2a2a2a">Temperature related</text>
<text x="376.10" y="161.30" font-size="4.0" fill="#2a2a2a">Precipitation related</text>
<text x="376.10" y="167.50" font-size="4.0" fill="#2a2a2a">Others</text>
<text x="513.50" y="159.35" font-size="5.5" fill="#2a2a2a">Native</text>
<text x="513.50" y="165.60" font-size="5.5" fill="#2a2a2a">Introduced</text>
<text x="102.22" y="259.10" font-size="4.9" text-anchor="middle" fill="#3a3a3a">1</text>
<text x="109.34" y="259.10" font-size="4.9" text-anchor="middle" fill="#3a3a3a">2</text>
<text x="116.46" y="259.10" font-size="4.9" text-anchor="middle" fill="#3a3a3a">3</text>
<text x="123.58" y="259.10" font-size="4.9" text-anchor="middle" fill="#3a3a3a">4</text>
<text x="130.70" y="259.10" font-size="4.9" text-anchor="middle" fill="#3a3a3a">5</text>
<text x="137.82" y="259.10" font-size="4.9" text-anchor="middle" fill="#3a3a3a">6</text>
<text x="144.94" y="259.10" font-size="4.9" text-anchor="middle" fill="#3a3a3a">7</text>
<text x="152.06" y="259.10" font-size="4.9" text-anchor="middle" fill="#3a3a3a">8</text>
<text x="159.18" y="259.10" font-size="4.9" text-anchor="middle" fill="#3a3a3a">9</text>
<text x="166.30" y="259.10" font-size="4.9" text-anchor="middle" fill="#3a3a3a">10</text>
<text x="170.10" y="253.78" font-size="5.7" text-anchor="start" fill="#2a2a2a">BIO1</text>
<text x="163.62" y="223.28" font-size="5.7" text-anchor="start" fill="#2a2a2a">BIO2</text>
<text x="145.69" y="196.02" font-size="5.7" text-anchor="middle" fill="#2a2a2a">BIO4</text>
<text x="118.46" y="180.30" font-size="5.7" text-anchor="middle" fill="#2a2a2a">BIO5</text>
<text x="87.20" y="177.01" font-size="5.7" text-anchor="middle" fill="#2a2a2a">BIO6</text>
<text x="57.30" y="186.73" font-size="5.7" text-anchor="middle" fill="#2a2a2a">BIO7</text>
<text x="34.42" y="209.70" font-size="5.7" text-anchor="end" fill="#2a2a2a">BIO10</text>
<text x="21.74" y="238.19" font-size="5.7" text-anchor="end" fill="#2a2a2a">BIO12</text>
<text x="21.74" y="269.37" font-size="5.7" text-anchor="end" fill="#2a2a2a">BIO14</text>
<text x="34.42" y="297.86" font-size="5.7" text-anchor="end" fill="#2a2a2a">BIO15</text>
<text x="56.65" y="322.26" font-size="5.7" text-anchor="middle" fill="#2a2a2a">BIO18</text>
<text x="87.06" y="332.14" font-size="5.7" text-anchor="middle" fill="#2a2a2a">BIO19</text>
<text x="118.86" y="328.80" font-size="5.7" text-anchor="middle" fill="#2a2a2a">Prinf</text>
<text x="146.56" y="312.81" font-size="5.7" text-anchor="middle" fill="#2a2a2a">Elevation</text>
<text x="163.62" y="284.29" font-size="5.7" text-anchor="start" fill="#2a2a2a">Slope</text>
<text x="9.00" y="179.90" font-size="7.2" fill="#2a2a2a">Herb-High latitudes</text>
<text x="9.50" y="199.30" font-size="11.8" fill="#000" style="stroke:#000;stroke-width:0.35px">D</text>
<text x="16.70" y="320.30" font-size="4.0" fill="#2a2a2a">Temperature related</text>
<text x="16.70" y="326.50" font-size="4.0" fill="#2a2a2a">Precipitation related</text>
<text x="16.70" y="332.70" font-size="4.0" fill="#2a2a2a">Others</text>
<text x="154.10" y="324.55" font-size="5.5" fill="#2a2a2a">Native</text>
<text x="154.10" y="330.80" font-size="5.5" fill="#2a2a2a">Introduced</text>
<text x="283.27" y="259.10" font-size="4.9" text-anchor="middle" fill="#3a3a3a">1</text>
<text x="290.39" y="259.10" font-size="4.9" text-anchor="middle" fill="#3a3a3a">2</text>
<text x="297.51" y="259.10" font-size="4.9" text-anchor="middle" fill="#3a3a3a">3</text>
<text x="304.63" y="259.10" font-size="4.9" text-anchor="middle" fill="#3a3a3a">4</text>
<text x="311.75" y="259.10" font-size="4.9" text-anchor="middle" fill="#3a3a3a">5</text>
<text x="318.87" y="259.10" font-size="4.9" text-anchor="middle" fill="#3a3a3a">6</text>
<text x="325.99" y="259.10" font-size="4.9" text-anchor="middle" fill="#3a3a3a">7</text>
<text x="333.11" y="259.10" font-size="4.9" text-anchor="middle" fill="#3a3a3a">8</text>
<text x="340.23" y="259.10" font-size="4.9" text-anchor="middle" fill="#3a3a3a">9</text>
<text x="347.35" y="259.10" font-size="4.9" text-anchor="middle" fill="#3a3a3a">10</text>
<text x="351.15" y="253.78" font-size="5.7" text-anchor="start" fill="#2a2a2a">BIO1</text>
<text x="346.09" y="226.69" font-size="5.7" text-anchor="start" fill="#2a2a2a">BIO4</text>
<text x="331.58" y="203.25" font-size="5.7" text-anchor="start" fill="#2a2a2a">BIO6</text>
<text x="309.85" y="184.53" font-size="5.7" text-anchor="middle" fill="#2a2a2a">BIO7</text>
<text x="283.13" y="176.92" font-size="5.7" text-anchor="middle" fill="#2a2a2a">BIO8</text>
<text x="255.46" y="179.49" font-size="5.7" text-anchor="middle" fill="#2a2a2a">BIO9</text>
<text x="230.59" y="191.87" font-size="5.7" text-anchor="middle" fill="#2a2a2a">BIO11</text>
<text x="212.38" y="214.30" font-size="5.7" text-anchor="end" fill="#2a2a2a">BIO12</text>
<text x="202.43" y="240.00" font-size="5.7" text-anchor="end" fill="#2a2a2a">BIO13</text>
<text x="202.43" y="267.56" font-size="5.7" text-anchor="end" fill="#2a2a2a">BIO14</text>
<text x="212.38" y="293.26" font-size="5.7" text-anchor="end" fill="#2a2a2a">BIO15</text>
<text x="229.81" y="317.03" font-size="5.7" text-anchor="middle" fill="#2a2a2a">BIO17</text>
<text x="255.11" y="329.63" font-size="5.7" text-anchor="middle" fill="#2a2a2a">BIO18</text>
<text x="283.25" y="332.23" font-size="5.7" text-anchor="middle" fill="#2a2a2a">BIO19</text>
<text x="310.43" y="324.50" font-size="5.7" text-anchor="middle" fill="#2a2a2a">Urban</text>
<text x="331.58" y="304.31" font-size="5.7" text-anchor="start" fill="#2a2a2a">Elevation</text>
<text x="346.09" y="280.87" font-size="5.7" text-anchor="start" fill="#2a2a2a">Pastr</text>
<text x="190.60" y="181.40" font-size="7.2" fill="#2a2a2a">Herb-Mid latitudes</text>
<text x="192.50" y="199.70" font-size="11.8" fill="#000" style="stroke:#000;stroke-width:0.35px">E</text>
<text x="197.75" y="320.30" font-size="4.0" fill="#2a2a2a">Temperature related</text>
<text x="197.75" y="326.50" font-size="4.0" fill="#2a2a2a">Precipitation related</text>
<text x="197.75" y="332.70" font-size="4.0" fill="#2a2a2a">Others</text>
<text x="335.15" y="324.55" font-size="5.5" fill="#2a2a2a">Native</text>
<text x="335.15" y="330.80" font-size="5.5" fill="#2a2a2a">Introduced</text>
<text x="462.42" y="259.10" font-size="4.9" text-anchor="middle" fill="#3a3a3a">1</text>
<text x="469.54" y="259.10" font-size="4.9" text-anchor="middle" fill="#3a3a3a">2</text>
<text x="476.66" y="259.10" font-size="4.9" text-anchor="middle" fill="#3a3a3a">3</text>
<text x="483.78" y="259.10" font-size="4.9" text-anchor="middle" fill="#3a3a3a">4</text>
<text x="490.90" y="259.10" font-size="4.9" text-anchor="middle" fill="#3a3a3a">5</text>
<text x="498.02" y="259.10" font-size="4.9" text-anchor="middle" fill="#3a3a3a">6</text>
<text x="505.14" y="259.10" font-size="4.9" text-anchor="middle" fill="#3a3a3a">7</text>
<text x="512.26" y="259.10" font-size="4.9" text-anchor="middle" fill="#3a3a3a">8</text>
<text x="519.38" y="259.10" font-size="4.9" text-anchor="middle" fill="#3a3a3a">9</text>
<text x="526.50" y="259.10" font-size="4.9" text-anchor="middle" fill="#3a3a3a">10</text>
<text x="530.30" y="253.78" font-size="5.7" text-anchor="start" fill="#2a2a2a">BIO1</text>
<text x="520.25" y="216.28" font-size="5.7" text-anchor="start" fill="#2a2a2a">BIO3</text>
<text x="493.10" y="186.73" font-size="5.7" text-anchor="middle" fill="#2a2a2a">BIO4</text>
<text x="455.30" y="176.60" font-size="5.7" text-anchor="middle" fill="#2a2a2a">BIO6</text>
<text x="417.50" y="186.73" font-size="5.7" text-anchor="middle" fill="#2a2a2a">BIO7</text>
<text x="390.35" y="216.28" font-size="5.7" text-anchor="end" fill="#2a2a2a">BIO11</text>
<text x="380.30" y="253.78" font-size="5.7" text-anchor="end" fill="#2a2a2a">BIO12</text>
<text x="390.35" y="291.28" font-size="5.7" text-anchor="end" fill="#2a2a2a">BIO15</text>
<text x="416.85" y="322.26" font-size="5.7" text-anchor="middle" fill="#2a2a2a">BIO18</text>
<text x="455.30" y="332.56" font-size="5.7" text-anchor="middle" fill="#2a2a2a">Urban</text>
<text x="493.75" y="322.26" font-size="5.7" text-anchor="middle" fill="#2a2a2a">Secdn</text>
<text x="520.25" y="291.28" font-size="5.7" text-anchor="start" fill="#2a2a2a">Cropland</text>
<text x="368.80" y="180.80" font-size="7.2" fill="#2a2a2a">Herb-Low latitudes</text>
<text x="373.50" y="199.60" font-size="11.8" fill="#000" style="stroke:#000;stroke-width:0.35px">F</text>
<text x="376.90" y="320.30" font-size="4.0" fill="#2a2a2a">Temperature related</text>
<text x="376.90" y="326.50" font-size="4.0" fill="#2a2a2a">Precipitation related</text>
<text x="376.90" y="332.70" font-size="4.0" fill="#2a2a2a">Others</text>
<text x="514.30" y="324.55" font-size="5.5" fill="#2a2a2a">Native</text>
<text x="514.30" y="330.80" font-size="5.5" fill="#2a2a2a">Introduced</text>
</g>
</svg>
</div></div>
</body></html>
